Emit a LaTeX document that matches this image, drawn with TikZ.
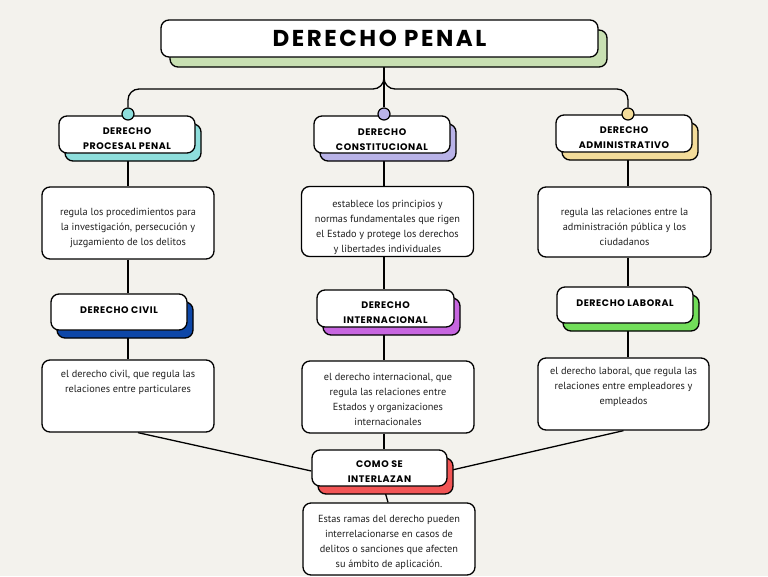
\documentclass[tikz,border=0pt]{standalone}
\usepackage{fontspec}
\setmainfont{PT Sans}
\newfontfamily\hfont[LetterSpace=6]{Poppins}
\newfontfamily\tfont[LetterSpace=11]{Poppins}
\usetikzlibrary{shadows,backgrounds}
\definecolor{bg}{HTML}{F3F2ED}
\definecolor{cgreen}{HTML}{C8E0B2}
\definecolor{cteal}{HTML}{8EDEDC}
\definecolor{clav}{HTML}{B9B3E8}
\definecolor{cyel}{HTML}{F3DC9A}
\definecolor{cblue}{HTML}{0D47A8}
\definecolor{cpurp}{HTML}{C766E0}
\definecolor{clgreen}{HTML}{72DE5A}
\definecolor{cred}{HTML}{F25555}
\tikzset{
  box/.style={draw=black, line width=1.3pt, rounded corners=8pt, fill=white, inner sep=0pt},
  shad/.style={general shadow={fill=#1, draw=black, line width=1.3pt, shadow xshift=6pt, shadow yshift=-8pt}},
  titlebox/.style={box, minimum width=437pt, minimum height=37pt,
    font=\tfont\bfseries\fontsize{23}{23}\selectfont,
    general shadow={fill=cgreen, draw=black, line width=1.3pt, shadow xshift=9pt, shadow yshift=-10pt}},
  head/.style={box, shad=#1, minimum width=136pt, minimum height=37pt},
  htext/.style={align=center, inner sep=0pt, font=\hfont\bfseries\fontsize{9.5}{15}\selectfont},
  desc/.style={box, minimum width=172pt, minimum height=71pt},
  dtext/.style={align=center, inner sep=0pt, font=\fontsize{10.3}{15}\selectfont, text=black!88},
  dot/.style={circle, draw=black, line width=1.2pt, fill=#1, minimum size=12pt, inner sep=0pt},
  conn/.style={line width=1.3pt, draw=black},
}
\begin{document}
\begin{tikzpicture}[x=1pt,y=-1pt]
\useasboundingbox (0,0) rectangle (768,576);
% title
\node[titlebox] (T) at (379.5,38.5) {DERECHO PENAL};
% level 1 headings
\node[head=cteal] (H1) at (127,134.5) {};
\node[htext] at ([yshift=-4pt]H1.center) {DERECHO\\PROCESAL PENAL};
\node[head=clav] (H2) at (382,134.5) {};
\node[htext] at ([yshift=-5pt]H2.center) {DERECHO\\CONSTITUCIONAL};
\node[head=cyel] (H3) at (624,133.5) {};
\node[htext] at ([yshift=-4pt]H3.center) {DERECHO\\ADMINISTRATIVO};
% dots
\node[dot=cteal] (c1) at (128,114) {};
\node[dot=clav] (c2) at (384,114) {};
\node[dot=cyel] (c3) at (628,114) {};
\coordinate (hb) at (0,89);
% level 1 descriptions
\node[desc, minimum height=72pt] (D1) at (128,223) {};
\node[dtext] at ([yshift=-5pt]D1.center) {regula los procedimientos para\\la investigación, persecución y\\juzgamiento de los delitos};
\node[desc, minimum height=70pt] (D2) at (387.5,221.5) {};
\node[dtext] at ([yshift=-6pt]D2.center) {establece los principios y\\normas fundamentales que rigen\\el Estado y protege los derechos\\y libertades individuales};
\node[desc, minimum height=70pt, minimum width=173pt] (D3) at (624.5,222) {};
\node[dtext] at ([yshift=-5pt]D3.center) {regula las relaciones entre la\\administración pública y los\\ciudadanos};
% level 2 headings
\node[head=cblue, minimum height=36pt] (L1) at (119,312) {};
\node[htext] at ([yshift=2pt]L1.center) {DERECHO CIVIL};
\node[head=cpurp, minimum width=137pt] (L2) at (385.5,308.5) {};
\node[htext] at ([yshift=-4pt]L2.center) {DERECHO\\INTERNACIONAL};
\node[head=clgreen, minimum height=36pt] (L3) at (625,305) {};
\node[htext] at ([yshift=2pt]L3.center) {DERECHO LABORAL};
% level 2 descriptions
\node[desc, minimum height=72pt] (E1) at (128,396) {};
\node[dtext, anchor=north] at ([yshift=-11pt]E1.north) {el derecho civil, que regula las\\relaciones entre particulares};
\node[desc, minimum height=72pt] (E2) at (388,397) {};
\node[dtext] at ([yshift=-2pt]E2.center) {el derecho internacional, que\\regula las relaciones entre\\Estados y organizaciones\\internacionales};
\node[desc, minimum height=72pt, minimum width=171pt] (E3) at (623.5,394) {};
\node[dtext, anchor=north] at ([yshift=-10pt]E3.north) {el derecho laboral, que regula las\\relaciones entre empleadores y\\empleados};
% bottom
\node[head=cred, minimum width=135pt, minimum height=36pt] (C) at (379.5,468) {};
\node[htext] at ([yshift=-4pt]C.center) {COMO SE\\INTERLAZAN};
\node[desc, minimum height=72pt] (F) at (389,539) {};
\node[dtext] at ([yshift=-3pt]F.center) {Estas ramas del derecho pueden\\interrelacionarse en casos de\\delitos o sanciones que afecten\\su ámbito de aplicación.};
% connectors and background
\begin{pgfonlayer}{background}
\fill[bg] (0,0) rectangle (768,576);
\draw[conn, rounded corners=11pt] (c2 |- T.south) |- (c1 |- hb) -- (c1);
\draw[conn, rounded corners=11pt] (c2 |- T.south) |- (c3 |- hb) -- (c3);
\draw[conn] (c2 |- T.south) -- (c2);
\draw[conn] (c1 |- H1.south) -- (c1 |- D1.north);
\draw[conn] (c2 |- H2.south) -- (c2 |- D2.north);
\draw[conn] (c3 |- H3.south) -- (c3 |- D3.north);
\draw[conn] (c1 |- D1.south) -- (c1 |- L1.north);
\draw[conn] (c2 |- D2.south) -- (c2 |- L2.north);
\draw[conn] (c3 |- D3.south) -- (c3 |- L3.north);
\draw[conn] (c1 |- L1.south) -- (c1 |- E1.north);
\draw[conn] (c2 |- L2.south) -- (c2 |- E2.north);
\draw[conn] (c3 |- L3.south) -- (c3 |- E3.north);
\draw[conn] ([xshift=10pt]E1.south) -- ([yshift=-3pt]C.west);
\draw[conn] (E3.south) -- ([yshift=-3pt]C.east);
\draw[conn] (c2 |- E2.south) -- (c2 |- C.north);
\draw[conn] ([xshift=4pt]C.south) -- ([xshift=-1pt]F.north);
\end{pgfonlayer}
\end{tikzpicture}
\end{document}
